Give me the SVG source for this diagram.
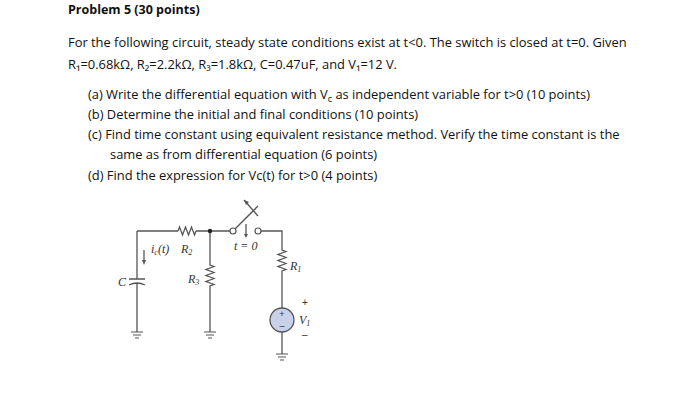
<svg xmlns="http://www.w3.org/2000/svg" width="700" height="400" viewBox="0 0 700 400">
<style>
.t{font-family:"Open Sans","Liberation Sans",sans-serif;font-size:12.9px;fill:#111}
.b{font-weight:bold;font-size:12.5px}
.w{fill:none;stroke:#555;stroke-width:1.3}
.s{font-family:"Liberation Serif",serif;font-style:italic;font-size:12px;fill:#333}
</style>
<rect width="700" height="400" fill="#fff"/>
<text class="t b" x="68" y="14">Problem 5 (30 points)</text>
<text class="t" x="68" y="47">For the following circuit, steady state conditions exist at t&lt;0. The switch is closed at t=0. Given</text>
<text class="t" x="68" y="69">R₁=0.68kΩ, R₂=2.2kΩ, R₃=1.8kΩ, C=0.47uF, and V₁=12 V.</text>
<text class="t" x="88" y="99">(a) Write the differential equation with V<tspan font-size="9" dy="3">c</tspan><tspan dy="-3"> as independent variable for t&gt;0 (10 points)</tspan></text>
<text class="t" x="88" y="119">(b) Determine the initial and final conditions  (10 points)</text>
<text class="t" x="88" y="139">(c) Find time constant using equivalent resistance method. Verify the time constant is the</text>
<text class="t" x="110" y="159">same as from differential equation (6 points)</text>
<text class="t" x="88" y="180">(d) Find the expression for Vc(t) for t&gt;0 (4 points)</text>
<g id="wires">
<path class="w" d="M137,231 H178 M196,231 H230 M137,231 V279 M137,283 V332 M129,279 H145 M129,285 Q137,281 145,285"/>
<path class="w" d="M178,231 l1.5,-4 l3,8 l3,-8 l3,8 l3,-8 l3,8 l1.5,-4"/>
<path class="w" d="M210,231 V265 l4,1.5 l-8,3 l8,3 l-8,3 l8,3 l-8,3 l8,3 l-4,1.5 V332"/>
<path class="w" d="M261,231 H282 V250 l4,1.5 l-8,3 l8,3 l-8,3 l8,3 l-8,3 l8,3 l-4,1.5 V308 M282,332 V354"/>
<path class="w" d="M235,229 L258,206"/>
<path class="w" d="M244,200 L258,216"/>
<path d="M244,200 l5,2 l-3,3 z" fill="#555"/>
<path class="w" d="M246,224 V236"/>
<path d="M244,234 l2,4 l2,-4 z" fill="#555"/>
<path class="w" d="M144,250 V262"/>
<path d="M142,260 l2,5 l2,-5 z" fill="#555"/>
</g>
<circle cx="233" cy="231" r="3" fill="#fff" stroke="#555" stroke-width="1.2"/>
<circle cx="258" cy="231" r="3" fill="#fff" stroke="#555" stroke-width="1.2"/>
<circle cx="210" cy="231" r="2.2" fill="#222"/>
<g id="source"><circle cx="282" cy="320" r="12" fill="#c9d0ea" stroke="#555" stroke-width="1.3"/>
<text x="282" y="317" text-anchor="middle" font-family="Liberation Sans,sans-serif" font-size="9" fill="#333">+</text><text x="282" y="329" text-anchor="middle" font-family="Liberation Sans,sans-serif" font-size="9" fill="#333">–</text></g>
<g id="grounds" stroke="#555" stroke-width="1.2">
<path d="M131,332 H143 M133,335 H141 M135,338 H139"/>
<path d="M204,332 H216 M206,335 H214 M208,338 H212"/>
<path d="M276,354 H288 M278,357 H286 M280,360 H284"/>
</g>
<text class="s" x="151" y="253">i<tspan font-size="8" dy="2">c</tspan><tspan dy="-2">(t)</tspan></text>
<text class="s" x="181" y="253">R<tspan font-size="8" dy="2">2</tspan></text>
<text class="s" x="234" y="250">t = 0</text>
<text class="s" x="290" y="270">R<tspan font-size="8" dy="2">1</tspan></text>
<text class="s" x="188" y="283">R<tspan font-size="8" dy="2">3</tspan></text>
<text class="s" x="118" y="286">C</text>
<text x="302" y="306" font-family="Liberation Sans,sans-serif" font-size="10" fill="#333">+</text>
<text class="s" x="299" y="324">V<tspan font-size="8" dy="2">1</tspan></text>
<text x="302" y="338" font-family="Liberation Sans,sans-serif" font-size="10" fill="#333">–</text>
</svg>
